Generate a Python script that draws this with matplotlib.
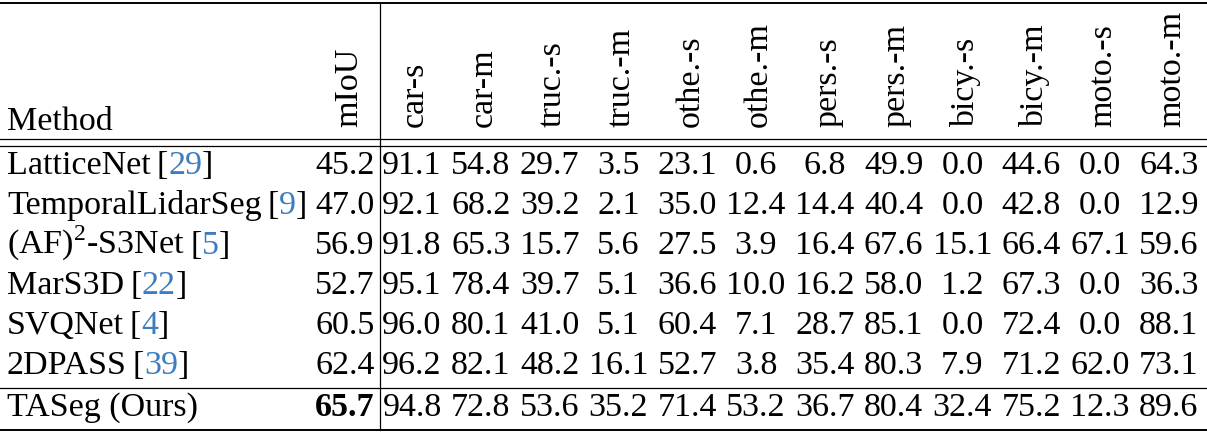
import matplotlib.pyplot as plt

plt.rcParams['font.family'] = ['Liberation Serif', 'DejaVu Serif']
plt.rcParams['mathtext.fontset'] = 'custom'
plt.rcParams['mathtext.rm'] = 'Liberation Serif'

# table content
methods = ["LatticeNet", "TemporalLidarSeg", "(AF)$^2$-S3Net", "MarS3D",
           "SVQNet", "2DPASS", "TASeg (Ours)"]
refs = ["29", "9", "5", "22", "4", "39", None]
classes = ["car-s", "car-m", "truc.-s", "truc.-m", "othe.-s", "othe.-m",
           "pers.-s", "pers.-m", "bicy.-s", "bicy.-m", "moto.-s", "moto.-m"]
miou = [45.2, 47.0, 56.9, 52.7, 60.5, 62.4, 65.7]
scores = [
    [91.1, 54.8, 29.7, 3.5, 23.1, 0.6, 6.8, 49.9, 0.0, 44.6, 0.0, 64.3],
    [92.1, 68.2, 39.2, 2.1, 35.0, 12.4, 14.4, 40.4, 0.0, 42.8, 0.0, 12.9],
    [91.8, 65.3, 15.7, 5.6, 27.5, 3.9, 16.4, 67.6, 15.1, 66.4, 67.1, 59.6],
    [95.1, 78.4, 39.7, 5.1, 36.6, 10.0, 16.2, 58.0, 1.2, 67.3, 0.0, 36.3],
    [96.0, 80.1, 41.0, 5.1, 60.4, 7.1, 28.7, 85.1, 0.0, 72.4, 0.0, 88.1],
    [96.2, 82.1, 48.2, 16.1, 52.7, 3.8, 35.4, 80.3, 7.9, 71.2, 62.0, 73.1],
    [94.8, 72.8, 53.6, 35.2, 71.4, 53.2, 36.7, 80.4, 32.4, 75.2, 12.3, 89.6],
]

W, H = 1207, 436
FS = 24.5
BLUE = '#3b7dbf'

fig = plt.figure(figsize=(W / 100, H / 100), dpi=100)
ax = fig.add_axes([0, 0, 1, 1])
ax.set_xlim(0, W)
ax.set_ylim(H, 0)
ax.axis('off')

# layout (pixels)
x_method = 7
x_miou = 345
x_vline = 380
x_cols = [412 + 68.8 * k for k in range(len(classes))]
y_base = [174 + 40 * i for i in range(6)] + [416]
y_head = 127

# rules
ax.plot([0, W], [3, 3], color='black', lw=1.4)
ax.plot([0, W], [139, 139], color='black', lw=0.9)
ax.plot([0, W], [146, 146], color='black', lw=0.9)
ax.plot([0, W], [388, 388], color='black', lw=0.9)
ax.plot([0, W], [430, 430], color='black', lw=1.4)
ax.plot([x_vline, x_vline], [3, 430], color='black', lw=0.9)

# header
ax.text(x_method, y_head + 3, "Method", fontsize=FS, ha='left', va='baseline')
ax.text(x_miou + 4, y_head, "mIoU", fontsize=FS, rotation=90,
        ha='center', va='bottom')
for x, c in zip(x_cols, classes):
    ax.text(x + 3, y_head, c, fontsize=FS, rotation=90, ha='center', va='bottom')

fig.canvas.draw()
renderer = fig.canvas.get_renderer()
inv = ax.transData.inverted()


def right_edge(t):
    bb = t.get_window_extent(renderer)
    return inv.transform((bb.x1, bb.y0))[0]


# rows
for i, name in enumerate(methods):
    y = y_base[i]
    t = ax.text(x_method, y, name, fontsize=FS, ha='left', va='baseline')
    if refs[i] is not None:
        t = ax.text(right_edge(t) + 6, y, "[", fontsize=FS, ha='left', va='baseline')
        t = ax.text(right_edge(t), y, refs[i], fontsize=FS, color=BLUE,
                    ha='left', va='baseline')
        ax.text(right_edge(t), y, "]", fontsize=FS, ha='left', va='baseline')
    weight = 'bold' if miou[i] == max(miou) else 'normal'
    ax.text(x_miou, y, f"{miou[i]:.1f}", fontsize=FS, ha='center',
            va='baseline', fontweight=weight)
    for x, v in zip(x_cols, scores[i]):
        ax.text(x, y, f"{v:.1f}", fontsize=FS, ha='center', va='baseline')

fig.savefig('out.png', dpi=100)
